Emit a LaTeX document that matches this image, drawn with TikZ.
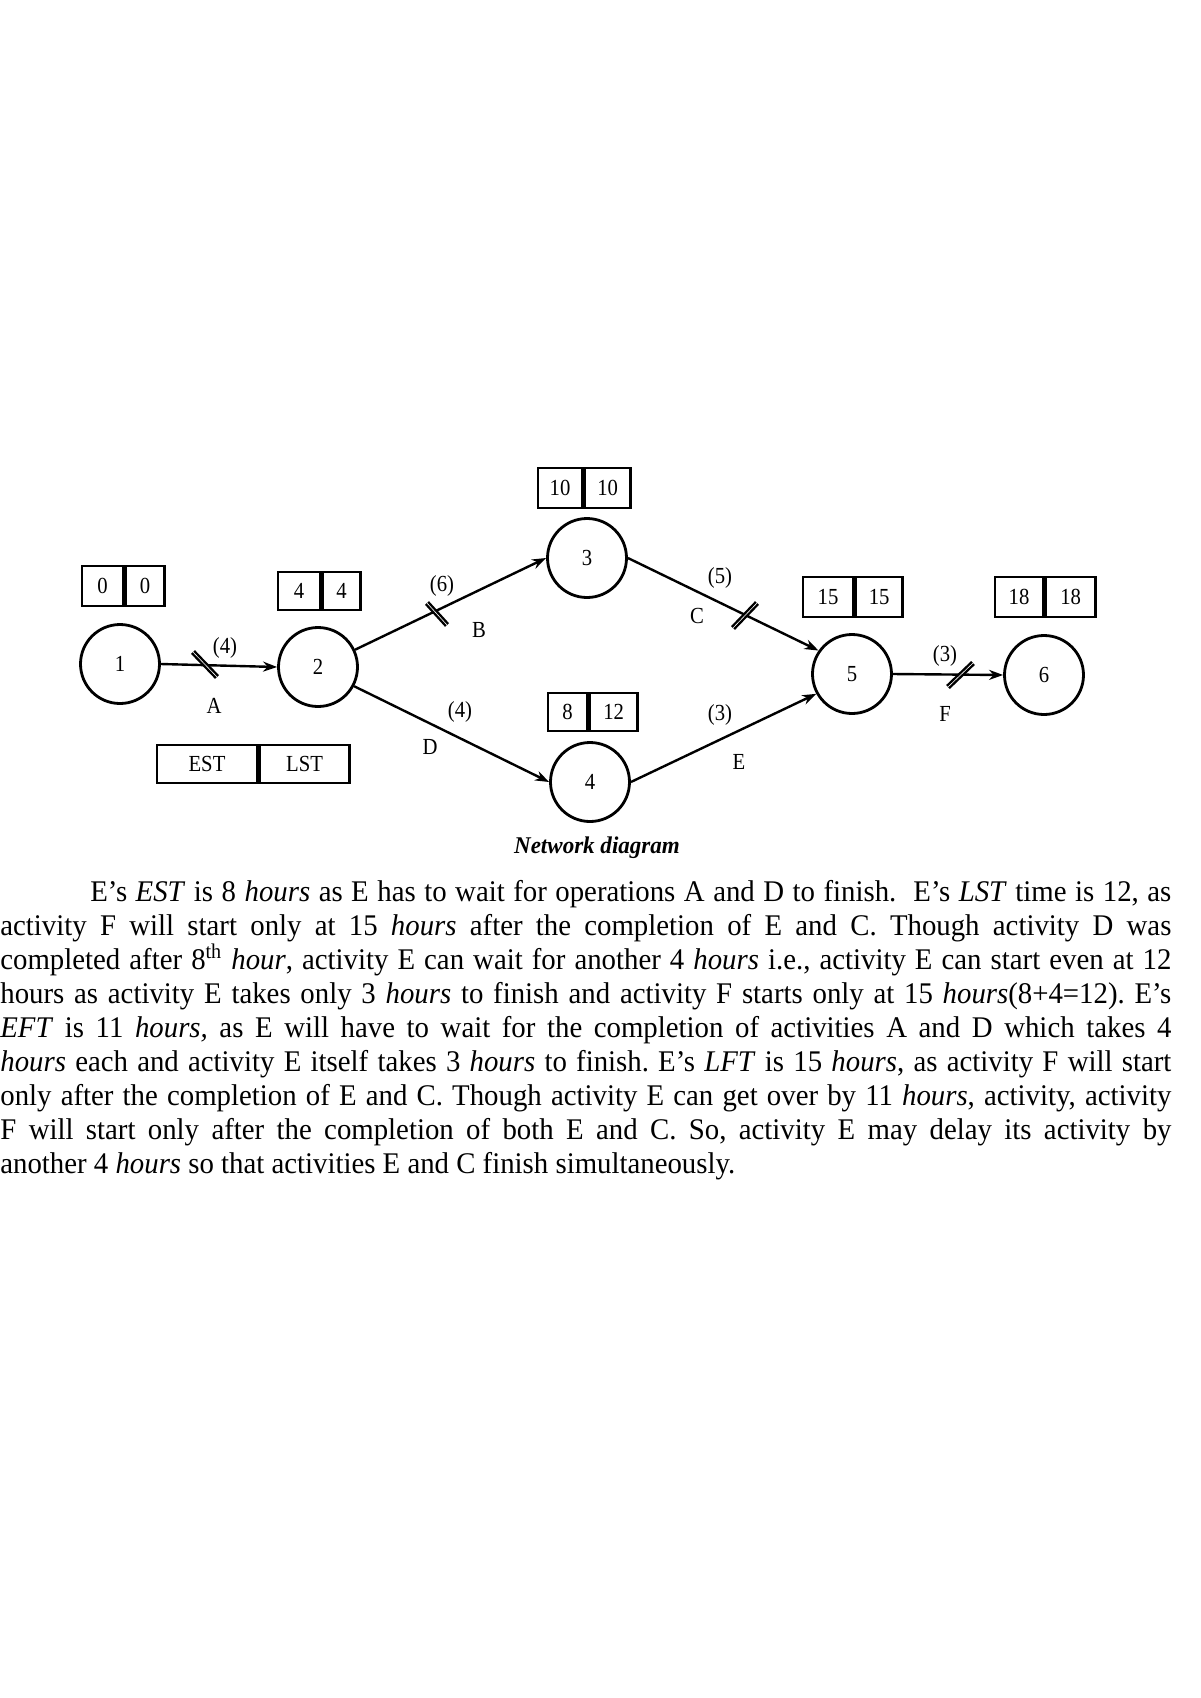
\documentclass[tikz,border=0pt]{standalone}
\usepackage{fontspec}
\setmainfont{Liberation Serif}
\newfontfamily\bodyfont[FakeStretch=0.96]{Liberation Serif}
\newfontfamily\diafont[FakeStretch=0.9]{Liberation Serif}
\usetikzlibrary{arrows.meta,calc}
\tikzset{
  event/.style={circle,draw,line width=1.4pt,minimum size=39.5pt,inner sep=0pt,font=\diafont\fontsize{11.5}{13}\selectfont},
  cell/.style={rectangle,draw,line width=1.3pt,inner sep=0pt,minimum height=20pt,font=\diafont\fontsize{11.5}{13}\selectfont},
  activity/.style={line width=1.2pt,-{Stealth[length=7pt,width=5pt]}},
  tickmark/.style={line width=1.2pt,double,double distance=0.3pt},
  lbl/.style={inner sep=0pt,font=\diafont\fontsize{11.5}{13}\selectfont}
}
\begin{document}
\begin{tikzpicture}[x=0.5pt,y=-0.5pt]
\useasboundingbox[fill=white] (0,0) rectangle (1200,1698);
% events
\node[event] (n1) at (120,664) {1};
\node[event] (n2) at (318,667) {2};
\node[event] (n3) at (587,558) {3};
\node[event] (n4) at (590,782) {4};
\node[event] (n5) at (852,674) {5};
\node[event] (n6) at (1044,675) {6};
% time boxes
\node[cell,minimum width=20.5pt] (b1l) at (102.5,586) {0};
\node[cell,minimum width=19.5pt,anchor=west] (b1r) at (b1l.east) {0};
\node[cell,minimum width=21pt,minimum height=19pt] (b2l) at (299,591) {4};
\node[cell,minimum width=19pt,minimum height=19pt,anchor=west] (b2r) at (b2l.east) {4};
\node[cell,minimum width=22pt] (b3l) at (560,488) {10};
\node[cell,minimum width=23pt,anchor=west] (b3r) at (b3l.east) {10};
\node[cell,minimum width=19.5pt,minimum height=19pt] (b4l) at (567.5,712) {8};
\node[cell,minimum width=24pt,minimum height=19pt,anchor=west] (b4r) at (b4l.east) {12};
\node[cell,minimum width=25pt] (b5l) at (828,597) {15};
\node[cell,minimum width=23.5pt,anchor=west] (b5r) at (b5l.east) {15};
\node[cell,minimum width=24pt] (b6l) at (1019,597) {18};
\node[cell,minimum width=25pt,anchor=west] (b6r) at (b6l.east) {18};
\node[cell,minimum width=50pt,minimum height=19pt] (lgl) at (207,764) {EST};
\node[cell,minimum width=45pt,minimum height=19pt,anchor=west] (lgr) at (lgl.east) {LST};
% activities
\draw[activity] (n1.east) -- (n2.west);
\draw[activity] (n2.25) -- (n3.west);
\draw[activity] (n2.-28) -- (n4.west);
\draw[activity] (n3.east) -- (n5.145);
\draw[activity] (n4.east) -- (n5.209);
\draw[activity] (n5.east) -- (n6.west);
% critical path marks
\draw[tickmark] (193,652) -- (217,677);
\draw[tickmark] (427,603) -- (447,625);
\draw[tickmark] (757,603) -- (733,628);
\draw[tickmark] (973,663) -- (948,687);
% labels
\node[lbl] (la1) at (225,648) {(4)};
\node[lbl] (la2) at (214,706) {A};
\node[lbl] (lb1) at (442,586) {(6)};
\node[lbl] (lb2) at (479,630) {B};
\node[lbl] (ld1) at (460,712) {(4)};
\node[lbl] (ld2) at (430,747) {D};
\node[lbl] (lc1) at (720,578) {(5)};
\node[lbl] (lc2) at (697,616) {C};
\node[lbl] (le1) at (720,715) {(3)};
\node[lbl] (le2) at (739,762) {E};
\node[lbl] (lf1) at (945,656) {(3)};
\node[lbl] (lf2) at (945,714) {F};
\node[inner sep=0pt,font=\bodyfont\bfseries\itshape\fontsize{12}{14}\selectfont] (cap) at (597,848) {Network diagram};
% paragraph
\node[anchor=base west,inner sep=0pt,font=\bodyfont\fontsize{15}{16.9}\selectfont] (para) at (0,901) {\parbox[t]{585.5pt}{\frenchspacing\setlength{\baselineskip}{17.05pt}\setlength{\parindent}{0pt}%
\makebox[585.5pt][s]{\hspace*{45pt}E’s \textit{EST} is 8 \textit{hours} as E has to wait for operations A and D to finish.\ \ E’s \textit{LST} time is 12, as}\\
\makebox[585.5pt][s]{activity F will start only at 15 \textit{hours} after the completion of E and C. Though activity D was}\\
\makebox[585.5pt][s]{completed after 8\textsuperscript{th} \textit{hour}, activity E can wait for another 4 \textit{hours} i.e., activity E can start even at 12}\\
\makebox[585.5pt][s]{hours as activity E takes only 3 \textit{hours} to finish and activity F starts only at 15 \textit{hours}(8+4=12). E’s}\\
\makebox[585.5pt][s]{\textit{EFT} is 11 \textit{hours,} as E will have to wait for the completion of activities A and D which takes 4}\\
\makebox[585.5pt][s]{\textit{hours} each and activity E itself takes 3 \textit{hours} to finish. E’s \textit{LFT} is 15 \textit{hours}, as activity F will start}\\
\makebox[585.5pt][s]{only after the completion of E and C. Though activity E can get over by 11 \textit{hours}, activity, activity}\\
\makebox[585.5pt][s]{F will start only after the completion of both E and C. So, activity E may delay its activity by}\\
another 4 \textit{hours} so that activities E and C finish simultaneously.}};
\end{tikzpicture}
\end{document}
